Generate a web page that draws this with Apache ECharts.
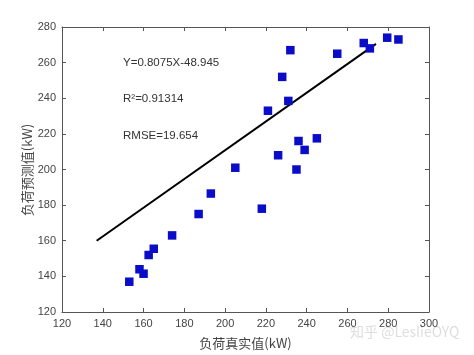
<!DOCTYPE html>
<html><head><meta charset="utf-8">
<script src="https://cdn.jsdelivr.net/npm/echarts@6/dist/echarts.min.js"></script>
<style>html,body{margin:0;padding:0;background:#fff}#c{width:474px;height:355px}</style>
</head><body><div id="c"></div>
<script>
const actual = [153,158,160,162.5,165,174,187,193,205,218,221,226,228,231,232,235,236,239,245,255,268,271,279.5,285];
const predicted = [137,144,141.5,152,155.5,163,175,186.5,201,178,233,208,252,238.5,267,200,216,211,217.5,265,271,268,274,273];
const fitX = [137,274];
const fitY = [160,270.5];
const annotations = ['Y=0.8075X-48.945', 'R²=0.91314', 'RMSE=19.654'];
const xName = '负荷真实值(kW)';
const yName = '负荷预测值(kW)';

const pts = actual.map((x,i)=>[x,predicted[i]]);
const line = fitX.map((x,i)=>[x,fitY[i]]);
const axisCommon = {
  axisLine:{show:true,lineStyle:{color:'#555',width:1}},
  axisTick:{show:true,inside:true,length:4,lineStyle:{color:'#555'}},
  splitLine:{show:false}
};
const chart = echarts.init(document.getElementById('c'));
chart.setOption({
  animation:false,
  grid:{left:62,right:45,top:27,bottom:39},
  xAxis:[
    Object.assign({}, axisCommon, {type:'value', position:'bottom', min:120,max:300,interval:20,
      name:xName, nameLocation:'middle', nameGap:25,
      nameTextStyle:{fontFamily:'Noto Sans CJK SC', fontSize:13, color:'#444'},
      axisLabel:{color:'#444', fontSize:11, fontFamily:'Liberation Sans', margin:6}}),
    Object.assign({}, axisCommon, {type:'value', position:'top', min:120,max:300,interval:20, axisLabel:{show:false}})
  ],
  yAxis:[
    Object.assign({}, axisCommon, {type:'value', position:'left', min:120,max:280,interval:20,
      axisLabel:{color:'#444', fontSize:11, fontFamily:'Liberation Sans', margin:6}}),
    Object.assign({}, axisCommon, {type:'value', position:'right', min:120,max:280,interval:20, axisLabel:{show:false}})
  ],
  series:[
    {type:'line', data:line, symbol:'none', lineStyle:{color:'#000', width:2}, z:2},
    {type:'scatter', data:pts, symbol:'rect', symbolSize:8.5, itemStyle:{color:'#0a0cc8', opacity:1}, z:3}
  ],
  graphic:[
    {type:'text', x:27, y:170, rotation:Math.PI/2, style:{text:yName, font:'13px "Noto Sans CJK SC"', fill:'#444', align:'center', verticalAlign:'middle'}},
    {type:'text', left:123, top:57, style:{text:annotations[0], font:'11.5px "Liberation Sans"', fill:'#333'}},
    {type:'text', left:123, top:93, style:{text:annotations[1], font:'11.5px "Liberation Sans"', fill:'#333'}},
    {type:'text', left:123, top:130, style:{text:annotations[2], font:'11.5px "Liberation Sans"', fill:'#333'}},
    {type:'text', left:350, top:325, style:{text:'知乎 @LeslieOYQ', font:'14px "Noto Sans CJK SC"', fill:'rgba(200,200,200,0.6)'}}
  ]
});
</script></body></html>
